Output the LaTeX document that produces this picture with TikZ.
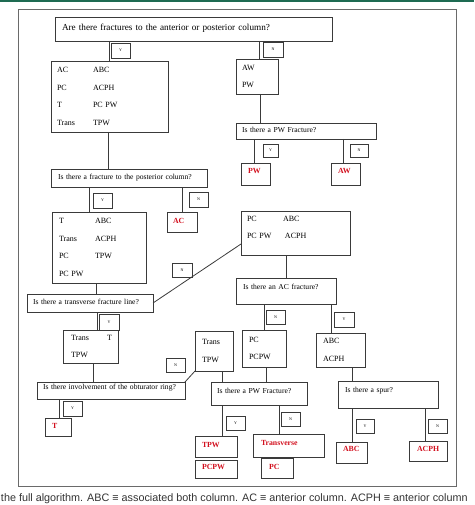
\documentclass[tikz,border=0pt]{standalone}
\usepackage{fontspec}
\setmainfont{Liberation Serif}
\newfontfamily\capfont{Liberation Sans}
\definecolor{resred}{HTML}{D2101E}
\definecolor{bargreen}{HTML}{1E6B52}
\definecolor{boxgray}{HTML}{3A3A3A}
\definecolor{framegray}{HTML}{6A6A6A}

\begin{document}
\begin{tikzpicture}[x=1pt, y=-1pt,
      every node/.style = {inner sep=0pt, outer sep=0pt},
      box/.style = {shape=rectangle, draw=boxgray, line width=0.9pt,
        anchor=north west, align=left},
      ask/.style = {box, font=\fontsize{7.6pt}{9pt}\selectfont,
        text height=5.5pt, text depth=2pt},
      list/.style = {box, font=\fontsize{8pt}{17.5pt}\selectfont},
      res/.style = {box, text=resred, font=\bfseries\fontsize{7.8pt}{9pt}\selectfont,
        text height=5.3pt, text depth=4pt},
      yn/.style = {box, align=center, font=\fontsize{4pt}{5pt}\selectfont},
      link/.style = {draw=boxgray, line width=0.8pt}]
    \useasboundingbox (0,0) rectangle (474,505);
    \fill[bargreen] (0,0) rectangle (474,2.5);
    \draw[framegray, line width=0.8pt] (18,9) rectangle (456,486);

    % first question
    \node[ask, font=\fontsize{9.2pt}{11pt}\selectfont, text height=6.5pt, text depth=3.3pt,
      inner xsep=7pt, text width=263pt, minimum height=24pt] (q1) at (55,17)
      {Are there fractures to the anterior or posterior column?};
    \node[yn, minimum width=19pt, minimum height=15pt] (yes1) at (111,43) {Y};
    \node[yn, minimum width=20pt, minimum height=15pt] (no1) at (263,42) {N};
    \node[list, inner xsep=6pt, text width=105pt, minimum height=71pt] (lista) at (51,61)
      {\makebox[36pt][l]{AC}ABC\\ \makebox[36pt][l]{PC}ACPH\\
       \makebox[36pt][l]{T}PC PW\\ \makebox[36pt][l]{Trans}TPW};
    \node[list, inner xsep=6pt, text width=30pt, minimum height=35pt] (awpw) at (236,59)
      {AW\\ PW};

    % wall branch
    \node[ask, inner xsep=6pt, text width=128pt, minimum height=16pt] (qpw1) at (236,123)
      {Is there a PW Fracture?};
    \node[yn, minimum width=15pt, minimum height=13pt] (yespw) at (263,144) {Y};
    \node[yn, minimum width=18pt, minimum height=13pt] (nopw) at (350,144) {N};
    \node[res, text depth=6pt, inner xsep=7pt, text width=15pt, minimum height=22pt] (respw) at (241,163) {PW};
    \node[res, text depth=6pt, inner xsep=7pt, text width=15pt, minimum height=22pt] (resaw) at (331,163) {AW};

    % posterior column
    \node[ask, inner xsep=7pt, text width=142pt, minimum height=18pt] (q2) at (51,169)
      {Is there a fracture to the posterior column?};
    \node[yn, minimum width=19pt, minimum height=15pt] (yes2) at (93,193) {Y};
    \node[yn, minimum width=19pt, minimum height=15pt] (no2) at (189,192) {N};
    \node[res, text depth=2pt, inner xsep=6pt, text width=18pt, minimum height=20pt] (resac) at (167,212) {AC};
    \node[list, inner xsep=7pt, text width=80pt, minimum height=71pt] (listb) at (52,212)
      {\makebox[36pt][l]{T}ABC\\ \makebox[36pt][l]{Trans}ACPH\\
       \makebox[36pt][l]{PC}TPW\\ PC PW};

    % transverse line
    \node[ask, inner xsep=6pt, text width=114pt, minimum height=18pt] (q3) at (27,294)
      {Is there a transverse fracture line?};
    \node[yn, minimum width=20pt, minimum height=14pt] (no3) at (172,263) {N};
    \node[yn, minimum width=20pt, minimum height=16pt] (yes3) at (99,314) {Y};
    \node[list, inner xsep=6pt, text width=97pt, minimum height=44pt, text depth=29pt] (listc) at (241,211)
      {\makebox[36pt][l]{PC}ABC\\ \makebox[38pt][l]{PC PW}ACPH};

    % anterior column
    \node[ask, text depth=8pt, inner xsep=7pt, text width=86pt, minimum height=26pt] (q4) at (236,278)
      {Is there an AC fracture?};
    \node[yn, minimum width=19pt, minimum height=14pt] (no4) at (266,310) {N};
    \node[yn, minimum width=20pt, minimum height=15pt] (yes4) at (334,312) {Y};

    \node[list, inner xsep=8pt, text width=39pt, minimum height=33pt] (listd) at (63,330)
      {\makebox[36pt][l]{Trans}T\\ TPW};
    \node[list, inner xsep=7pt, text width=24pt, minimum height=40pt] (liste) at (195,331)
      {Trans\\ TPW};
    \node[list, inner xsep=7pt, text width=30pt, minimum height=37pt] (listf) at (242,330)
      {PC\\ PCPW};
    \node[list, inner xsep=7pt, text width=35pt, minimum height=34pt] (listg) at (316,333)
      {ABC\\ ACPH};

    % obturator ring
    \node[ask, text depth=7.6pt, inner xsep=6pt, text width=136pt, minimum height=17pt] (q5) at (37,382)
      {Is there involvement of the obturator ring?};
    \node[yn, minimum width=19pt, minimum height=15pt] (yes5) at (63,401) {Y};
    \node[yn, minimum width=19pt, minimum height=14pt] (no5) at (166,358) {N};
    \node[res, text depth=2pt, inner xsep=7pt, text width=12pt, minimum height=18pt] (rest) at (45,418) {T};

    % second wall question
    \node[ask, text depth=5pt, inner xsep=6pt, text width=84pt, minimum height=23pt] (q6) at (211,382)
      {Is there a PW Fracture?};
    \node[yn, minimum width=19pt, minimum height=14pt] (yes6) at (226,416) {Y};
    \node[yn, minimum width=19pt, minimum height=14pt] (no6) at (281,412) {N};
    \node[res, text depth=3pt, inner xsep=7pt, text width=28pt, minimum height=21pt] (restpw) at (195,436) {TPW};
    \node[res, inner xsep=7pt, text width=28pt, minimum height=18pt] (respcpw) at (195,460) {PCPW};
    \node[res, text depth=5pt, inner xsep=8pt, text width=55pt, minimum height=23pt] (restrans) at (253,434) {Transverse};
    \node[res, text depth=2pt, inner xsep=8pt, text width=16pt, minimum height=20pt] (respc) at (261,458) {PC};

    % spur
    \node[ask, text depth=9pt, inner xsep=7pt, text width=86pt, minimum height=27pt] (q7) at (338,381)
      {Is there a spur?};
    \node[yn, minimum width=18pt, minimum height=14pt] (yes7) at (356,419) {Y};
    \node[yn, minimum width=19pt, minimum height=14pt] (no7) at (428,419) {N};
    \node[res, text depth=7pt, inner xsep=7pt, text width=17pt, minimum height=21pt] (resabc) at (336,442) {ABC};
    \node[res, inner xsep=8pt, text width=22pt, minimum height=20pt] (resacph) at (409,441) {ACPH};

    % connectors
    \draw[link] ([xshift=-2pt]yes1.west |- q1.south) -- ([xshift=-2pt]yes1.west |- lista.north);
    \draw[link] ([xshift=-4pt]no1.west |- q1.south) -- ([xshift=-4pt]no1.west |- awpw.north);
    \draw[link] ([xshift=3pt]awpw.south) -- ([xshift=3pt]awpw.south |- qpw1.north);
    \draw[link] ([xshift=-9pt]yespw.west |- qpw1.south) -- ([xshift=-9pt]yespw.west |- respw.north);
    \draw[link] ([xshift=-7pt]nopw.west |- qpw1.south) -- ([xshift=-7pt]nopw.west |- resaw.north);
    \draw[link] ([xshift=-1.5pt]lista.south) -- ([xshift=-1.5pt]lista.south |- q2.north);
    \draw[link] ([xshift=-4pt]yes2.west |- q2.south) -- ([xshift=-4pt]yes2.west |- listb.north);
    \draw[link] ([xshift=-7pt]no2.west |- q2.south) -- ([xshift=-7pt]no2.west |- resac.north);
    \draw[link] ([xshift=-3pt]listb.south) -- ([xshift=-3pt]listb.south |- q3.north);
    \draw[link] ([xshift=-2pt]yes3.west |- q3.south) -- ([xshift=-2pt]yes3.west |- listd.north);
    \draw[link] (q3.east) -- ([yshift=-11pt]listc.west);
    \draw[link] (q4.north |- listc.south) -- (q4.north);
    \draw[link] ([xshift=-2pt]no4.west |- q4.south) -- ([xshift=-2pt]no4.west |- listf.north);
    \draw[link] ([xshift=-3pt]yes4.west |- q4.south) -- ([xshift=-3pt]yes4.west |- listg.north);
    \draw[link] ([xshift=2.5pt]listd.south) -- ([xshift=2.5pt]listd.south |- q5.north);
    \draw[link] ([xshift=-4pt]yes5.west |- q5.south) -- ([xshift=-4pt]yes5.west |- rest.north);
    \draw[link] (q5.north east) -- (liste.south west);
    \draw[link] ([xshift=-4pt]yes6.west |- liste.south) -- ([xshift=-4pt]yes6.west |- q6.north);
    \draw[link] ([xshift=2pt]listf.south) -- ([xshift=2pt]listf.south |- q6.north);
    \draw[link] ([xshift=-4pt]yes6.west |- q6.south) -- ([xshift=-4pt]yes6.west |- restpw.north);
    \draw[link] ([xshift=-2pt]no6.west |- q6.south) -- ([xshift=-2pt]no6.west |- restrans.north);
    \draw[link] ([xshift=-4pt]yes7.west |- listg.south) -- ([xshift=-4pt]yes7.west |- q7.north);
    \draw[link] ([xshift=-4pt]yes7.west |- q7.south) -- ([xshift=-4pt]yes7.west |- resabc.north);
    \draw[link] ([xshift=-3pt]no7.west |- q7.south) -- ([xshift=-3pt]no7.west |- resacph.north);

    % caption line
    \node[anchor=base west, text=black!80, font=\capfont\fontsize{10.8pt}{13pt}\selectfont] (caption) at (1,501.5)
      {the full algorithm. ABC ≡ associated both column. AC ≡ anterior column. ACPH ≡ anterior column};
  \end{tikzpicture}
\end{document}
